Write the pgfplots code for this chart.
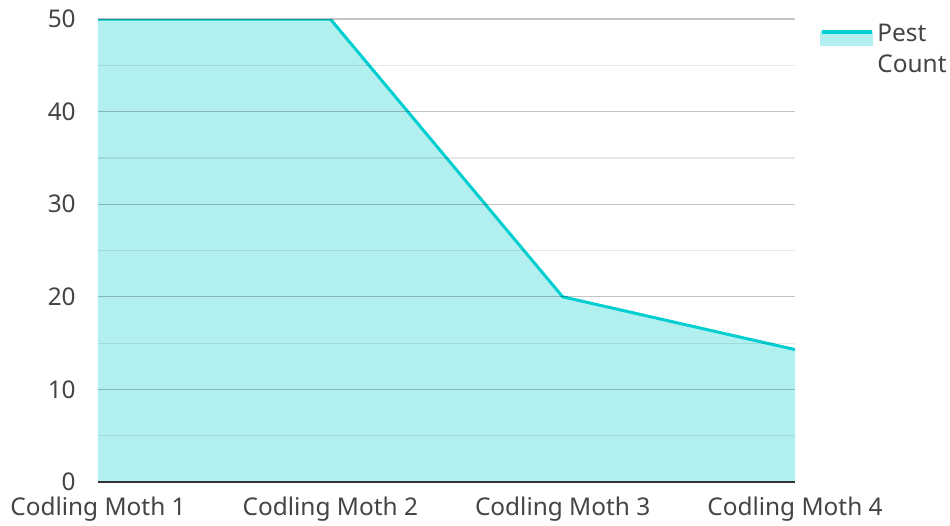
\documentclass[border=0pt]{standalone}
\usepackage{fontspec}
\setmainfont{Noto Sans}
\usepackage{pgfplots}
\pgfplotsset{compat=1.18}
\definecolor{linec}{HTML}{00CED1}
\definecolor{fillc}{HTML}{B2EFEF}
\definecolor{txt}{HTML}{444444}
\begin{document}
\fontsize{24.4bp}{30bp}\selectfont
\begin{tikzpicture}
\begin{axis}[
  scale only axis,
  width=697bp, height=463bp,
  xmin=0, xmax=3, ymin=0, ymax=50,
  xtick={0,1,2,3},
  xticklabels={Codling Moth 1,Codling Moth 2,Codling Moth 3,Codling Moth 4},
  ytick={0,10,20,30,40,50},
  minor ytick={5,15,25,35,45},
  ymajorgrids, yminorgrids,
  major grid style={black, opacity=0.23, line width=1.2bp},
  minor grid style={black, opacity=0.09, line width=1.2bp},
  axis on top,
  axis x line*=bottom,
  axis y line*=left,
  y axis line style={draw=none},
  x axis line style={draw=black!80, line width=2.5bp, -},
  tick style={draw=none},
  major tick length=0pt,
  minor tick length=0pt,
  tick label style={text=txt, font=\fontsize{24.4bp}{30bp}\selectfont},
  yticklabel style={xshift=-14bp},
  xticklabel style={yshift=-7bp},
  /pgf/number format/assume math mode=true,
  legend style={at={(1.0355,1.0007)}, anchor=north west, draw=none, fill=none,
    font=\fontsize{24.4bp}{30bp}\selectfont, text=txt,
    legend cell align=left, inner sep=0pt},
  legend image code/.code={
    \fill[fillc] (0bp,-3bp) rectangle (50bp,9bp);
    \draw[linec, line width=3.5bp] (0bp,9bp) -- (50bp,9bp);
  },
]
\addplot[draw=none, fill=fillc, forget plot] coordinates {
  (0,50) (1,50) (2,20) (3,14.3)
} \closedcycle;
\addplot[draw=linec, line width=3bp] coordinates {
  (0,50) (1,50) (2,20) (3,14.3)
};
\addlegendentry{\hspace{2bp}\begin{tabular}{@{}l@{}}Pest\\[1bp]Count\end{tabular}}
\end{axis}
\pgfresetboundingbox
\useasboundingbox (-98bp,-44bp) rectangle (852bp,482bp);
\end{tikzpicture}
\end{document}
